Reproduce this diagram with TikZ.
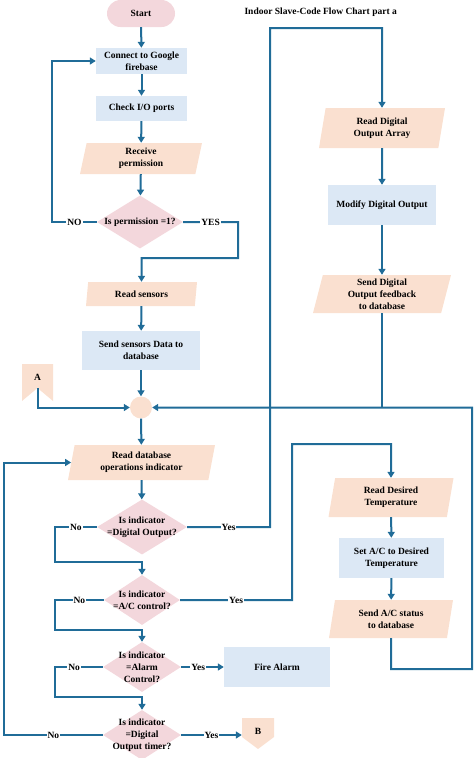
\documentclass[tikz,border=0pt]{standalone}
\usepackage{fontspec}
\setmainfont{Liberation Serif}
\usetikzlibrary{shapes.geometric,shapes.misc,arrows.meta}
\definecolor{flow}{RGB}{32,108,152}
\definecolor{bluebox}{RGB}{220,232,245}
\definecolor{peach}{RGB}{250,224,208}
\definecolor{pinkd}{RGB}{243,215,220}
\begin{document}
\begin{tikzpicture}[x=1pt,y=-1pt,
  txt/.style={font=\fontsize{9.5}{11.8}\selectfont\bfseries, align=center},
  proc/.style={txt, rectangle, fill=bluebox, inner sep=0pt},
  io/.style={txt, trapezium, trapezium left angle=72, trapezium right angle=108,
    trapezium stretches body, fill=peach, inner sep=0pt},
  dec/.style={diamond, fill=pinkd, inner sep=0pt},
  startst/.style={txt, rounded rectangle, fill=pinkd, inner sep=0pt},
  line/.style={draw=flow, line width=2pt},
  arr/.style={line, -{Triangle[length=6pt,width=7pt]}},
  lbl/.style={txt, fill=white, inner sep=1pt}]
\useasboundingbox (0,0) rectangle (474,758);

% left column
\node[startst, minimum width=68pt, minimum height=27pt] (start) at (141,13.5) {Start};
\node[txt, anchor=west] (title) at (241,12) {Indoor Slave-Code Flow Chart part a};
\node[proc, minimum width=91pt, minimum height=26pt] (connect) at (141.5,61) {Connect to Google\\firebase};
\node[proc, minimum width=91pt, minimum height=25pt] (check) at (141.5,108.5) {Check I/O ports};
\node[io, minimum width=122pt, minimum height=31pt] (recv) at (141,158.5) {Receive\\permission};
\node[dec, minimum width=86pt, minimum height=53pt,
  label={[txt]center:Is permission =1?}] (perm) at (140,222) {};
\node[io, minimum width=111pt, minimum height=24pt] (rsens) at (141.5,294) {Read sensors};
\node[proc, minimum width=118pt, minimum height=39pt] (ssens) at (141,350.5) {Send sensors Data to\\database};
\node[circle, fill=peach, minimum size=22pt, inner sep=0pt] (join) at (141,407.5) {};
\node[io, minimum width=147pt, minimum height=35pt] (rdb) at (141.5,462.5) {Read database\\operations indicator};
\node[dec, minimum width=90pt, minimum height=55pt,
  label={[txt]center:Is indicator\\=Digital Output?}] (dDO) at (142,527) {};
\node[dec, minimum width=76pt, minimum height=50pt,
  label={[txt]center:Is indicator\\=A/C control?}] (dAC) at (142,600) {};
\node[dec, minimum width=78pt, minimum height=50pt,
  label={[txt]center:Is indicator\\=Alarm\\Control?}] (dAL) at (142,667) {};
\node[dec, minimum width=78pt, minimum height=50pt,
  label={[txt]center:Is indicator\\=Digital\\Output timer?}] (dT) at (142,735) {};
\node[proc, minimum width=106pt, minimum height=40pt] (fire) at (277,667) {Fire Alarm};

% off-page markers
\fill[peach] (22,364) -- (53,364) -- (53,401) -- (37.5,388) -- (22,401) -- cycle;
\node[txt] (A) at (37.5,377) {A};
\coordinate (Atip) at (37.5,388);
\fill[peach] (242,718) -- (274,718) -- (274,737) -- (258,749) -- (242,737) -- cycle;
\node[txt, minimum width=32pt, minimum height=20pt, inner sep=0pt] (B) at (258,731) {B};

% right column
\node[io, minimum width=126pt, minimum height=40pt] (rdoa) at (382,128) {Read Digital\\Output Array};
\node[proc, minimum width=108pt, minimum height=40pt] (mdo) at (382,205) {Modify Digital Output};
\node[io, minimum width=138pt, minimum height=38pt] (sdof) at (382,294) {Send Digital\\Output feedback\\to database};
\node[io, minimum width=125pt, minimum height=39pt] (rdt) at (391,497.5) {Read Desired\\Temperature};
\node[proc, minimum width=105pt, minimum height=40pt] (sac) at (391.5,558) {Set A/C to Desired\\Temperature};
\node[io, minimum width=124pt, minimum height=38pt] (sacs) at (391,619) {Send A/C status\\to database};

% connectors
\draw[arr] (start) -- (connect);
\draw[arr] (connect) -- (check);
\draw[arr] (check) -- (recv);
\draw[arr] (recv) -- (perm);
\draw[arr] (perm.west) -- node[lbl]{NO} (52,222) |- (connect.west);
\draw[arr] (perm.east) -- node[lbl]{YES} (238,222) |- (141.5,258) -- (rsens.north);
\draw[arr] (rsens) -- (ssens);
\draw[arr] (ssens) -- (join);
\draw[arr] (Atip) |- (join.west);
\draw[arr] (join) -- (rdb);
\draw[arr] (rdb) -- (dDO);
\draw[arr] (dDO.west) -- node[lbl]{No} (55,527) |- (142,562) -- (dAC.north);
\draw[arr] (dAC.west) -- node[lbl]{No} (55,600) |- (142,630) -- (dAL.north);
\draw[arr] (dAL.west) -- node[lbl,pos=0.6]{No} (55,667) |- (142,697) -- (dT.north);
\draw[arr] (dT.west) -- node[lbl]{No} (4,735) |- (rdb.west);
\draw[arr] (dAL.east) -- node[lbl,pos=0.4]{Yes} (fire.west);
\draw[arr] (dT.east) -- node[lbl]{Yes} (dT.east -| B.west);

\draw[arr] (dDO.east) -- node[lbl]{Yes} (270,527) |- (382,28) -- (rdoa.north);
\draw[arr] (rdoa) -- (mdo);
\draw[arr] (mdo) -- (sdof);
\draw[line] (sdof.south) -- (sdof.south |- join.east);

\draw[arr] (dAC.east) -- node[lbl]{Yes} (292,600) |- (391,444) -- (rdt.north);
\draw[arr] (rdt) -- (sac);
\draw[arr] (sac) -- (sacs);
\draw[arr] (sacs.south) -- (391,669) -- (472,669) -- (472,407.5) -- (join.east);
\end{tikzpicture}
\end{document}
